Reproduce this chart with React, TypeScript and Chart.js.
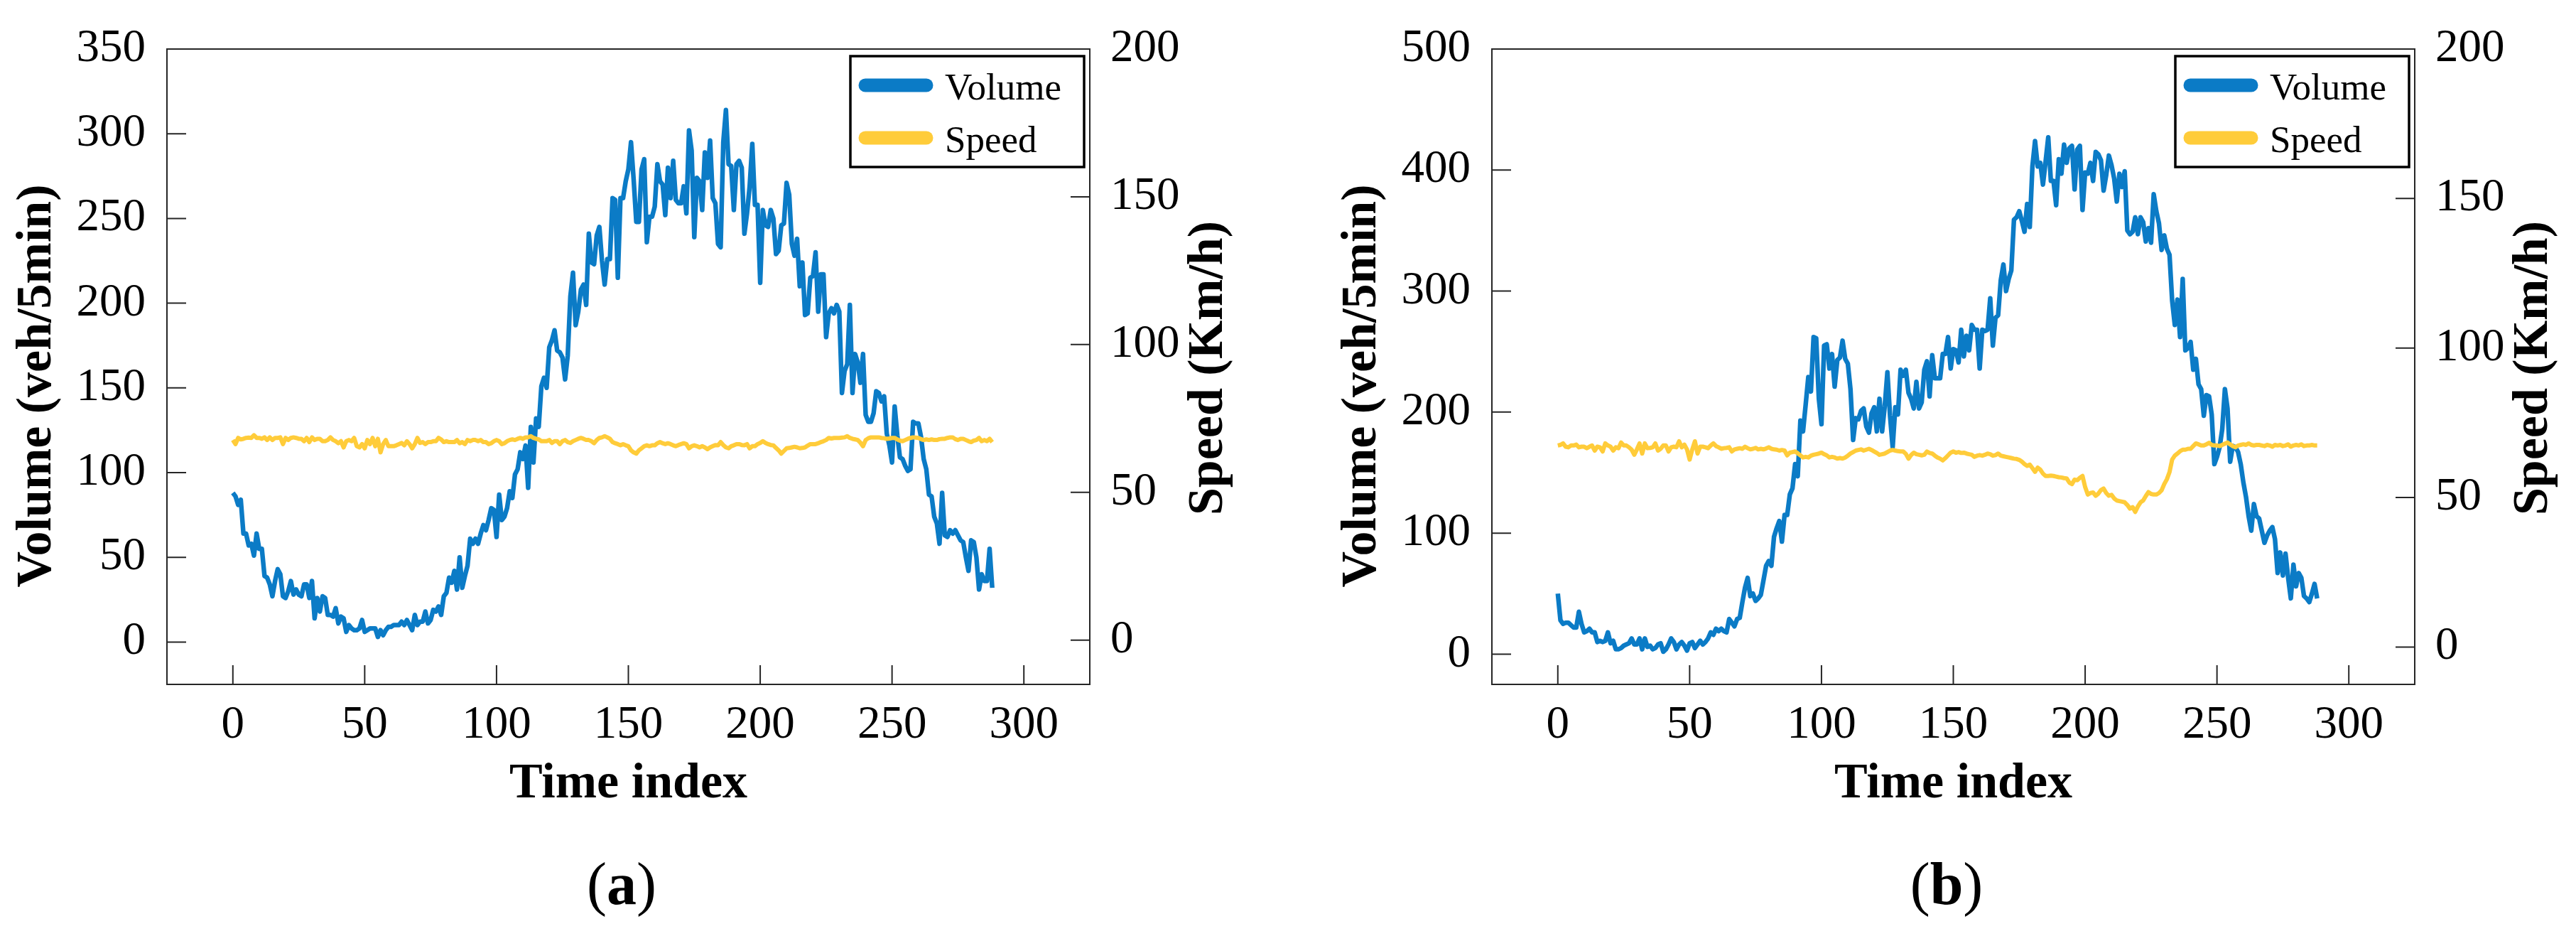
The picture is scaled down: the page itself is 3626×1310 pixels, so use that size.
import { useEffect, useRef } from 'react';
import { Chart, registerables } from 'chart.js';

Chart.register(...registerables);

// values, one per time index (0..288)
const volumeA = [
  88, 86, 81, 84, 64, 64, 57, 58, 51, 64, 55, 55, 39, 38, 34, 27, 36, 43, 40, 27,
  26, 30, 36, 28, 31, 28, 27, 34, 34, 26, 36, 14, 26, 18, 27, 26, 16, 16, 15, 20,
  11, 15, 14, 6, 10, 8, 7, 7, 8, 13, 6, 7, 8, 8, 8, 3, 7, 4, 7, 9,
  9, 10, 10, 10, 12, 10, 13, 10, 7, 16, 10, 12, 12, 18, 11, 13, 19, 18, 21, 16,
  27, 29, 38, 35, 42, 31, 50, 32, 39, 45, 61, 58, 61, 58, 64, 69, 66, 72, 79, 78,
  62, 87, 72, 74, 79, 89, 85, 99, 102, 112, 108, 116, 91, 127, 106, 132, 127, 151, 156, 150,
  174, 178, 184, 172, 171, 168, 155, 169, 204, 218, 187, 195, 208, 211, 199, 241, 224, 223, 240, 245,
  225, 211, 226, 226, 262, 261, 215, 262, 262, 272, 279, 295, 273, 248, 248, 279, 285, 236, 251, 251,
  257, 282, 272, 270, 252, 280, 262, 284, 261, 259, 259, 269, 253, 302, 290, 239, 274, 272, 255, 289,
  274, 296, 262, 259, 235, 233, 295, 314, 282, 281, 255, 282, 284, 280, 241, 253, 269, 294, 258, 258,
  212, 255, 246, 245, 255, 250, 229, 231, 246, 247, 271, 264, 235, 228, 238, 210, 224, 193, 194, 215,
  216, 230, 195, 217, 217, 180, 194, 197, 194, 199, 195, 147, 160, 164, 199, 147, 170, 165, 153, 170,
  134, 130, 130, 135, 148, 147, 142, 145, 123, 116, 106, 139, 122, 109, 108, 104, 101, 102, 130, 129,
  129, 121, 108, 102, 87, 86, 74, 70, 58, 88, 63, 62, 66, 64, 66, 63, 60, 59, 50, 42,
  60, 59, 50, 31, 40, 36, 36, 55, 32,
];

const speedA = [
  67.7, 66.3, 68.4, 67.9, 68.1, 68.4, 68.5, 68.4, 69.3, 68.4, 68.4, 68.1, 68.6, 67.7, 68.6, 67.7, 68.4, 68.4, 68.6, 66.3,
  68.4, 67.7, 68.4, 68.6, 68.4, 68.1, 68.1, 67.3, 68.4, 67.0, 68.6, 67.7, 68.1, 68.1, 67.3, 67.3, 67.7, 68.6, 67.7, 67.3,
  66.6, 67.3, 65.2, 67.3, 67.7, 67.3, 68.4, 65.6, 65.2, 66.3, 64.9, 67.7, 66.3, 68.4, 65.6, 68.1, 63.5, 66.3, 67.7, 65.6,
  65.6, 65.6, 65.9, 66.3, 66.7, 65.9, 67.3, 66.3, 64.9, 66.3, 68.4, 66.7, 67.0, 66.3, 67.0, 67.0, 67.3, 67.3, 68.4, 67.9,
  67.0, 67.3, 67.0, 67.0, 67.0, 67.7, 66.6, 67.0, 66.3, 67.7, 67.3, 67.7, 67.7, 67.3, 67.7, 67.0, 67.0, 66.3, 66.6, 67.3,
  67.7, 67.3, 66.3, 66.6, 67.3, 67.7, 67.9, 67.7, 68.1, 68.4, 68.1, 68.6, 68.6, 69.0, 68.4, 68.1, 67.9, 67.3, 67.3, 67.3,
  67.7, 66.7, 67.3, 67.3, 66.3, 67.3, 67.7, 67.0, 66.7, 67.3, 67.7, 68.1, 68.4, 68.1, 67.7, 67.7, 67.3, 66.6, 67.7, 68.4,
  68.6, 69.0, 68.6, 68.1, 67.0, 66.6, 66.3, 65.9, 66.3, 65.9, 65.6, 64.2, 63.5, 63.1, 64.2, 64.9, 65.6, 65.9, 65.6, 65.9,
  65.9, 66.6, 67.0, 66.6, 66.3, 66.6, 66.3, 65.9, 65.6, 66.0, 66.3, 66.6, 66.3, 64.9, 65.6, 65.9, 65.6, 65.2, 65.6, 65.2,
  64.6, 65.2, 65.6, 66.0, 65.9, 67.0, 66.0, 65.2, 64.9, 65.6, 65.9, 66.3, 66.3, 66.0, 65.9, 66.3, 64.9, 65.6, 65.6, 66.3,
  66.7, 67.3, 66.7, 66.3, 66.0, 65.9, 65.0, 64.2, 63.1, 64.0, 64.9, 65.0, 65.2, 65.4, 65.2, 64.9, 65.0, 65.2, 65.8, 66.3,
  66.3, 66.3, 66.6, 67.0, 67.3, 67.7, 68.4, 68.2, 68.4, 68.4, 68.4, 68.5, 68.6, 69.0, 68.4, 68.1, 67.9, 67.7, 66.8, 65.6,
  67.7, 68.3, 68.6, 68.6, 68.6, 68.6, 68.4, 68.3, 68.1, 68.2, 68.4, 68.4, 67.9, 67.5, 67.3, 67.7, 68.1, 68.4, 68.6, 68.5,
  68.4, 68.0, 67.7, 67.9, 67.7, 67.9, 67.7, 67.7, 68.0, 68.1, 68.1, 68.4, 68.6, 68.6, 68.0, 67.7, 68.1, 68.1, 67.7, 67.3,
  67.0, 67.5, 67.7, 68.4, 67.3, 67.7, 67.3, 68.1, 67.0,
];

const volumeB = [
  50, 28, 25, 26, 26, 24, 22, 22, 35, 25, 18, 19, 21, 18, 18, 10, 11, 10, 11, 18,
  9, 11, 4, 4, 5, 7, 8, 9, 13, 8, 8, 13, 4, 13, 6, 7, 4, 5, 8, 9,
  2, 4, 8, 13, 10, 4, 8, 10, 7, 3, 9, 10, 5, 8, 11, 8, 10, 13, 18, 16,
  21, 19, 21, 19, 18, 29, 26, 23, 29, 30, 43, 55, 63, 48, 50, 44, 46, 49, 61, 73,
  77, 73, 97, 104, 110, 93, 115, 115, 132, 137, 157, 147, 193, 184, 206, 229, 217, 262, 261, 211,
  190, 255, 256, 236, 248, 221, 243, 245, 259, 244, 240, 219, 177, 195, 194, 201, 203, 188, 183, 199,
  204, 184, 211, 184, 205, 233, 197, 171, 204, 198, 235, 230, 235, 216, 211, 203, 225, 203, 208, 235,
  242, 213, 247, 228, 228, 228, 248, 248, 262, 236, 252, 251, 241, 268, 246, 263, 251, 272, 268, 268,
  236, 268, 267, 268, 294, 255, 278, 280, 309, 322, 300, 310, 317, 359, 361, 366, 358, 349, 372, 353,
  403, 424, 403, 406, 388, 407, 427, 391, 391, 371, 409, 397, 421, 406, 418, 420, 384, 417, 420, 367,
  398, 397, 406, 391, 415, 413, 408, 383, 396, 412, 404, 393, 374, 397, 386, 399, 350, 347, 349, 361,
  347, 361, 357, 341, 352, 340, 380, 366, 356, 334, 346, 335, 330, 292, 272, 293, 262, 310, 251, 253,
  258, 235, 244, 223, 219, 197, 214, 213, 198, 157, 163, 171, 186, 219, 203, 159, 172, 171, 167, 157,
  142, 130, 114, 102, 124, 114, 112, 102, 92, 98, 102, 105, 95, 67, 84, 65, 83, 63, 46, 74,
  56, 67, 63, 48, 46, 43, 50, 58, 46,
];

const speedB = [
  67.4, 67.6, 68.1, 67.0, 66.8, 67.4, 67.4, 67.7, 66.8, 67.0, 67.0, 66.5, 67.0, 67.4, 65.7, 67.0, 66.8, 65.4, 68.1, 67.4,
  67.0, 65.7, 66.8, 66.5, 68.4, 67.4, 67.4, 66.8, 66.0, 64.3, 66.1, 68.1, 64.7, 68.1, 66.5, 66.6, 66.8, 68.1, 65.7, 66.3,
  67.4, 67.4, 65.4, 66.8, 67.0, 66.8, 68.8, 66.8, 67.7, 66.1, 62.7, 66.1, 68.8, 64.7, 67.0, 67.0, 66.8, 66.5, 67.4, 68.1,
  67.2, 66.8, 66.3, 66.5, 66.6, 66.8, 65.4, 66.1, 66.3, 66.5, 66.3, 67.0, 66.5, 66.1, 66.3, 66.6, 66.1, 66.3, 66.1, 66.4,
  66.8, 66.3, 66.1, 66.0, 65.7, 65.9, 65.7, 64.1, 65.0, 65.2, 65.4, 64.8, 64.1, 63.4, 63.6, 63.4, 64.0, 64.3, 64.5, 64.7,
  65.0, 64.5, 64.1, 63.4, 63.6, 63.4, 63.0, 63.2, 63.0, 63.4, 64.0, 64.7, 65.2, 65.7, 65.9, 66.1, 65.7, 66.0, 66.3, 65.9,
  65.4, 64.9, 64.3, 64.5, 64.7, 65.2, 65.7, 65.9, 65.7, 65.5, 65.4, 65.4, 64.6, 63.0, 64.2, 65.0, 64.5, 64.3, 64.1, 64.3,
  65.4, 64.9, 64.7, 64.0, 63.4, 63.0, 62.4, 63.2, 64.1, 65.0, 65.4, 65.0, 65.2, 64.9, 65.0, 64.7, 64.5, 64.3, 63.6, 64.0,
  64.2, 64.0, 64.3, 64.7, 64.5, 64.0, 64.2, 64.7, 64.0, 63.8, 63.6, 63.4, 63.2, 63.0, 62.9, 62.6, 62.0, 61.2, 60.6, 61.0,
  59.8, 58.6, 60.0, 59.3, 58.0, 57.2, 57.2, 57.3, 57.2, 57.0, 56.8, 56.7, 56.5, 56.4, 55.0, 54.5, 56.0, 55.8, 56.6, 57.2,
  53.5, 51.0, 51.5, 51.7, 50.6, 51.3, 52.5, 53.0, 51.5, 50.6, 50.9, 49.7, 49.0, 48.8, 48.6, 48.4, 47.5, 46.3, 46.8, 45.2,
  47.0, 48.4, 49.0, 50.5, 51.8, 51.2, 51.0, 51.0, 51.5, 52.4, 54.5, 56.1, 58.5, 62.7, 64.0, 64.7, 65.5, 66.0, 66.0, 66.3,
  66.3, 67.2, 68.1, 67.8, 67.4, 67.4, 67.8, 68.3, 67.6, 67.4, 67.4, 67.2, 67.6, 68.0, 68.4, 67.8, 67.2, 66.8, 67.4, 67.6,
  67.8, 67.6, 68.1, 67.6, 67.4, 67.6, 67.6, 67.4, 67.2, 67.6, 67.4, 67.0, 67.6, 67.4, 67.6, 67.2, 67.4, 67.8, 67.0, 67.4,
  67.6, 67.4, 67.8, 67.2, 67.4, 67.4, 67.6, 67.4, 67.4,
];

const timeTicks = [0, 50, 100, 150, 200, 250, 300];
const volumeTicksA = [0, 50, 100, 150, 200, 250, 300, 350];
const volumeTicksB = [0, 100, 200, 300, 400, 500];
const speedTicks = [0, 50, 100, 150, 200];
const seriesNames = ['Volume', 'Speed'];

const BLUE = '#0B7BC6';
const YELLOW = '#FFCC3A';
const AXIS = '#262626';
const FAMILY = '"Liberation Serif", serif';

const W = 1761;
const H = 1310;

const framePlugin = {
  id: 'frame',
  afterDatasetsDraw(chart: any) {
    const { ctx, chartArea: a, scales } = chart;
    ctx.save();
    ctx.strokeStyle = AXIS;
    ctx.lineWidth = 2;
    ctx.strokeRect(a.left, a.top, a.right - a.left, a.bottom - a.top);
    // MATLAB-style ticks pointing into the box
    ctx.beginPath();
    scales.x.ticks.forEach((t: any) => {
      const px = scales.x.getPixelForValue(t.value);
      ctx.moveTo(px, a.bottom);
      ctx.lineTo(px, a.bottom - 27);
    });
    scales.yL.ticks.forEach((t: any) => {
      const py = scales.yL.getPixelForValue(t.value);
      ctx.moveTo(a.left, py);
      ctx.lineTo(a.left + 27, py);
    });
    scales.yR.ticks.forEach((t: any) => {
      const py = scales.yR.getPixelForValue(t.value);
      ctx.moveTo(a.right, py);
      ctx.lineTo(a.right - 27, py);
    });
    ctx.stroke();
    ctx.restore();
  },
  afterDraw(chart: any, _args: any, opts: any) {
    const { ctx, chartArea: a } = chart;
    ctx.save();

    // legend box, top right
    const lx = a.right - 337;
    const ly = a.top + 10;
    ctx.fillStyle = '#fff';
    ctx.fillRect(lx, ly, 329, 156);
    ctx.strokeStyle = '#000';
    ctx.lineWidth = 3.5;
    ctx.strokeRect(lx, ly, 329, 156);
    ctx.lineCap = 'round';
    ctx.lineWidth = 19;
    [BLUE, YELLOW].forEach((c, i) => {
      ctx.strokeStyle = c;
      ctx.beginPath();
      ctx.moveTo(lx + 21, ly + 41 + i * 74);
      ctx.lineTo(lx + 107, ly + 41 + i * 74);
      ctx.stroke();
    });
    ctx.fillStyle = '#000';
    ctx.font = `53px ${FAMILY}`;
    ctx.textAlign = 'left';
    ctx.textBaseline = 'alphabetic';
    seriesNames.forEach((n, i) => ctx.fillText(n, lx + 133, ly + 61 + i * 74));

    // axis titles
    ctx.font = `bold 70px ${FAMILY}`;
    ctx.textAlign = 'center';
    ctx.fillText('Time index', (a.left + a.right) / 2, 1122);
    ctx.textBaseline = 'middle';
    ctx.save();
    ctx.translate(53, 543);
    ctx.rotate(-Math.PI / 2);
    ctx.fillText('Volume (veh/5min)', 0, 0);
    ctx.restore();
    ctx.save();
    ctx.translate(a.right + 168, 518);
    ctx.rotate(-Math.PI / 2);
    ctx.fillText('Speed (Km/h)', 0, 0);
    ctx.restore();

    // panel caption "(a)" / "(b)"
    ctx.textBaseline = 'alphabetic';
    ctx.textAlign = 'left';
    const reg = `84px ${FAMILY}`;
    const bold = `bold 84px ${FAMILY}`;
    ctx.font = reg;
    const wp = ctx.measureText('(').width;
    const wc = ctx.measureText(')').width;
    ctx.font = bold;
    const wl = ctx.measureText(opts.caption).width;
    let cx = 875 - (wp + wl + wc) / 2;
    ctx.font = reg;
    ctx.fillText('(', cx, 1272);
    cx += wp;
    ctx.font = bold;
    ctx.fillText(opts.caption, cx, 1272);
    cx += wl;
    ctx.font = reg;
    ctx.fillText(')', cx, 1272);

    ctx.restore();
  },
};

interface PanelProps {
  volume: number[];
  speed: number[];
  volumeMax: number;
  volumeTicks: number[];
  speedMin: number;
  caption: string;
  left: number;
}

const Panel = ({ volume, speed, volumeMax, volumeTicks, speedMin, caption, left }: PanelProps) => {
  const canvasRef = useRef<HTMLCanvasElement | null>(null);

  useEffect(() => {
    if (!canvasRef.current) return;
    const tickFont = { family: FAMILY, size: 65 };
    const noGrid = { display: false, drawTicks: false };
    const chart = new Chart(canvasRef.current, {
      type: 'line',
      data: {
        datasets: [
          {
            label: seriesNames[0],
            data: volume.map((v, i) => ({ x: i, y: v })),
            borderColor: BLUE,
            borderWidth: 6.5,
            pointRadius: 0,
            borderJoinStyle: 'round',
            yAxisID: 'yL',
            order: 1,
          },
          {
            label: seriesNames[1],
            data: speed.map((v, i) => ({ x: i, y: v })),
            borderColor: YELLOW,
            borderWidth: 6,
            pointRadius: 0,
            borderJoinStyle: 'round',
            yAxisID: 'yR',
            order: 0,
          },
        ],
      },
      options: {
        animation: false,
        responsive: true,
        maintainAspectRatio: false,
        layout: { padding: { top: 66, left: 0, right: 0, bottom: 0 } },
        plugins: {
          legend: { display: false },
          tooltip: { enabled: false },
          frame: { caption },
        } as any,
        scales: {
          x: {
            type: 'linear',
            min: -25,
            max: 325,
            grid: noGrid,
            border: { display: false },
            ticks: { font: tickFont, color: '#000', padding: 19, maxRotation: 0, autoSkip: false },
            afterBuildTicks: (s: any) => { s.ticks = timeTicks.map(v => ({ value: v })); },
            afterFit: (s: any) => { s.height = H - 963; },
          },
          yL: {
            type: 'linear',
            position: 'left',
            min: -25,
            max: volumeMax,
            grid: noGrid,
            border: { display: false },
            ticks: { font: tickFont, color: '#000', padding: 30 },
            afterBuildTicks: (s: any) => { s.ticks = volumeTicks.map(v => ({ value: v })); },
            afterFit: (s: any) => { s.width = 235; },
          },
          yR: {
            type: 'linear',
            position: 'right',
            min: speedMin,
            max: 200,
            grid: noGrid,
            border: { display: false },
            ticks: { font: tickFont, color: '#000', padding: 29 },
            afterBuildTicks: (s: any) => { s.ticks = speedTicks.map(v => ({ value: v })); },
            afterFit: (s: any) => { s.width = W - 1534; },
          },
        },
      },
      plugins: [framePlugin],
    });
    return () => chart.destroy();
  }, [volume, speed, volumeMax, volumeTicks, speedMin, caption]);

  return (
    <div style={{ position: 'absolute', left, top: 0, width: W, height: H }}>
      <canvas ref={canvasRef} />
    </div>
  );
};

export default function App() {
  return (
    <div style={{ position: 'absolute', left: 0, top: 0, width: 3626, height: 1310, background: '#fff' }}>
      <Panel volume={volumeA} speed={speedA} volumeMax={350} volumeTicks={volumeTicksA} speedMin={-15} caption="a" left={0} />
      <Panel volume={volumeB} speed={speedB} volumeMax={500} volumeTicks={volumeTicksB} speedMin={-12.5} caption="b" left={1865} />
    </div>
  );
}
